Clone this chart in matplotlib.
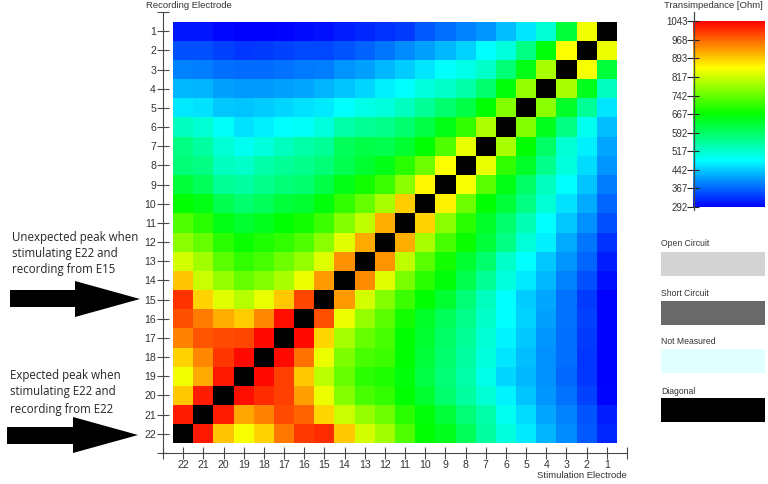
import numpy as np
import matplotlib
matplotlib.use('Agg')
import matplotlib.pyplot as plt
from matplotlib.colors import LinearSegmentedColormap
from matplotlib.patches import Polygon, Rectangle

plt.rcParams['font.family'] = ['Liberation Sans', 'DejaVu Sans']

N = np.nan

# transimpedance in Ohm, rows = recording electrode 1..22, columns = stimulation electrode 22..1
row01 = [307, 307, 297, 292, 292, 295, 300, 305, 314, 321, 329, 336, 358, 373, 388, 403, 432, 462, 513, 624, 844, N]
row02 = [351, 351, 340, 333, 335, 340, 345, 345, 355, 365, 380, 395, 410, 428, 447, 480, 505, 572, 660, 851, N, 840]
row03 = [388, 385, 373, 372, 372, 376, 382, 385, 402, 410, 428, 443, 462, 482, 498, 520, 580, 652, 792, N, 848, 624]
row04 = [428, 425, 410, 405, 405, 410, 415, 425, 436, 450, 469, 480, 506, 520, 543, 587, 660, 777, N, 792, 645, 528]
row05 = [465, 458, 440, 436, 443, 450, 458, 465, 480, 498, 505, 528, 557, 587, 616, 667, 763, N, 770, 638, 557, 462]
row06 = [528, 513, 487, 458, 469, 480, 487, 505, 543, 557, 565, 587, 616, 652, 704, 796, N, 763, 645, 572, 491, 432]
row07 = [572, 550, 513, 491, 505, 528, 543, 557, 602, 616, 609, 631, 667, 726, 837, N, 792, 667, 594, 513, 469, 414]
row08 = [580, 572, 528, 520, 543, 557, 565, 580, 609, 631, 652, 697, 748, 851, N, 837, 704, 638, 565, 505, 454, 403]
row09 = [624, 602, 557, 550, 565, 580, 587, 616, 652, 682, 711, 770, 860, N, 848, 733, 652, 594, 528, 480, 436, 384]
row10 = [667, 652, 609, 587, 602, 624, 631, 660, 704, 741, 792, 892, N, 865, 748, 667, 624, 572, 513, 458, 417, 366]
row11 = [726, 697, 652, 631, 645, 667, 682, 711, 763, 807, 914, N, 888, 770, 697, 638, 587, 535, 480, 440, 399, 351]
row12 = [770, 741, 697, 674, 689, 704, 726, 770, 833, 918, N, 914, 792, 719, 674, 624, 572, 510, 469, 417, 380, 329]
row13 = [822, 785, 733, 704, 719, 748, 777, 830, 937, N, 933, 807, 733, 682, 631, 587, 520, 480, 440, 403, 366, 314]
row14 = [899, 815, 777, 741, 763, 792, 840, 929, N, 940, 833, 756, 697, 660, 609, 557, 505, 465, 428, 388, 351, 303]
row15 = [1006, 888, 833, 800, 837, 896, 991, N, 929, 822, 763, 711, 667, 631, 580, 528, 480, 443, 414, 377, 336, 292]
row16 = [984, 951, 914, 892, 943, 1032, N, 984, 840, 777, 733, 682, 638, 602, 565, 520, 480, 447, 410, 377, 340, 292]
row17 = [947, 980, 988, 991, 1035, N, 1035, 885, 789, 741, 719, 667, 631, 594, 557, 513, 472, 440, 403, 373, 336, 292]
row18 = [888, 943, 1003, 1035, N, 1035, 958, 840, 759, 719, 711, 667, 624, 587, 550, 505, 462, 432, 399, 373, 333, 292]
row19 = [844, 918, 1025, N, 1035, 995, 896, 804, 741, 697, 689, 660, 616, 580, 543, 498, 450, 428, 399, 369, 333, 292]
row20 = [896, 1021, N, 1032, 1010, 995, 925, 840, 763, 719, 704, 667, 631, 587, 550, 513, 472, 436, 403, 377, 340, 296]
row21 = [1021, N, 1021, 921, 947, 988, 970, 885, 815, 777, 748, 697, 660, 624, 580, 543, 491, 454, 414, 388, 355, 314]
row22 = [N, 1025, 899, 848, 888, 954, 999, 1010, 896, 822, 785, 726, 667, 645, 602, 550, 505, 465, 425, 395, 358, 321]

rows = [row01, row02, row03, row04, row05, row06, row07, row08, row09, row10, row11,
        row12, row13, row14, row15, row16, row17, row18, row19, row20, row21, row22]

stim_labels = [str(i) for i in range(22, 0, -1)]
rec_labels = [str(i) for i in range(1, 23)]
cbar_ticks = [292, 367, 442, 517, 592, 667, 742, 817, 893, 968, 1043]

W, H = 768, 484
TXT = '#333333'
LINE = '#4a4a4a'


# axes rectangle from pixel edges, y counted from the top
def px_axes(x0, y0, x1, y1):
    return fig.add_axes([x0 / W, 1 - y1 / H, (x1 - x0) / W, (y1 - y0) / H])


fig = plt.figure(figsize=(W / 100, H / 100), dpi=100)

cmap = LinearSegmentedColormap.from_list('rainbow5', ['#0000ff', '#00ffff', '#00ff00', '#ffff00', '#ff0000'], N=512)
cmap.set_bad('black')

ax = px_axes(163, 12, 627, 453)
data = np.ma.masked_invalid(np.array(rows, dtype=float))
mesh = ax.pcolormesh(np.arange(22), np.arange(22), data, cmap=cmap, vmin=292, vmax=1043, shading='nearest')
ax.set_xlim(-1, 22)
ax.set_ylim(22, -1)
ax.spines['top'].set_visible(False)
ax.spines['right'].set_visible(False)
ax.spines['left'].set_color(LINE)
ax.spines['bottom'].set_color(LINE)
ax.set_xticks(np.arange(-1, 23))
ax.set_xticklabels([''] + stim_labels + [''])
ax.set_yticks(np.arange(-1, 23))
ax.set_yticklabels([''] + rec_labels + [''])
ax.tick_params(axis='both', direction='inout', length=9, width=0.8, color=LINE,
               labelsize=7.6, labelcolor=TXT, pad=0.5)

cax = px_axes(693, 21, 765, 207)
cb = fig.colorbar(mesh, cax=cax, ticks=cbar_ticks)
cb.outline.set_visible(False)
cax.yaxis.set_ticks_position('left')
cax.tick_params(axis='y', direction='inout', length=8, width=0.8, color='#222222',
                labelsize=7, labelcolor=TXT, pad=0)
cax.minorticks_off()
cax.set_yticklabels([str(t) for t in cbar_ticks])

# overlay in pixel coordinates for labels, swatches and the arrows
ov = fig.add_axes([0, 0, 1, 1], zorder=5)
ov.set_xlim(0, W)
ov.set_ylim(H, 0)
ov.axis('off')

ov.plot([693.5, 693.5], [12, 210], color=LINE, lw=0.9)
ov.text(146, 6, 'Recording Electrode', fontsize=6.8, color=TXT, va='center', ha='left')
ov.text(627, 475.5, 'Stimulation Electrode', fontsize=6.8, color=TXT, va='center', ha='right')
ov.text(664, 6, 'Transimpedance [Ohm]', fontsize=6.8, color=TXT, va='center', ha='left')

swatches = [('Open Circuit', 244, 252, '#d3d3d3'),
            ('Short Circuit', 293, 301, '#696969'),
            ('Not Measured', 342, 349, '#e0ffff'),
            ('Diagonal', 391, 398, '#000000')]
for name, ty, sy, col in swatches:
    ov.text(661, ty, name, fontsize=6.2, color=TXT, va='center', ha='left')
    ov.add_patch(Rectangle((661, sy), 104, 24, facecolor=col, edgecolor='none'))

notes = [(12, [237, 253, 269], ['Unexpected peak when', 'stimulating E22 and', 'recording from E15']),
         (10, [376, 392, 409], ['Expected peak when', 'stimulating E22 and', 'recording from E22'])]
for x, ys, lines in notes:
    for y, line in zip(ys, lines):
        ov.text(x, y, line, family='Open Sans', fontsize=8.3, color='#262626', va='center', ha='left')

ov.add_patch(Polygon([(10, 290), (75, 290), (75, 281), (140, 299), (75, 317), (75, 307), (10, 307)],
                     facecolor='black', edgecolor='none'))
ov.add_patch(Polygon([(7, 427), (73, 427), (73, 417), (138, 435), (73, 453), (73, 444), (7, 444)],
                     facecolor='black', edgecolor='none'))

plt.savefig('out.png', dpi=100)
